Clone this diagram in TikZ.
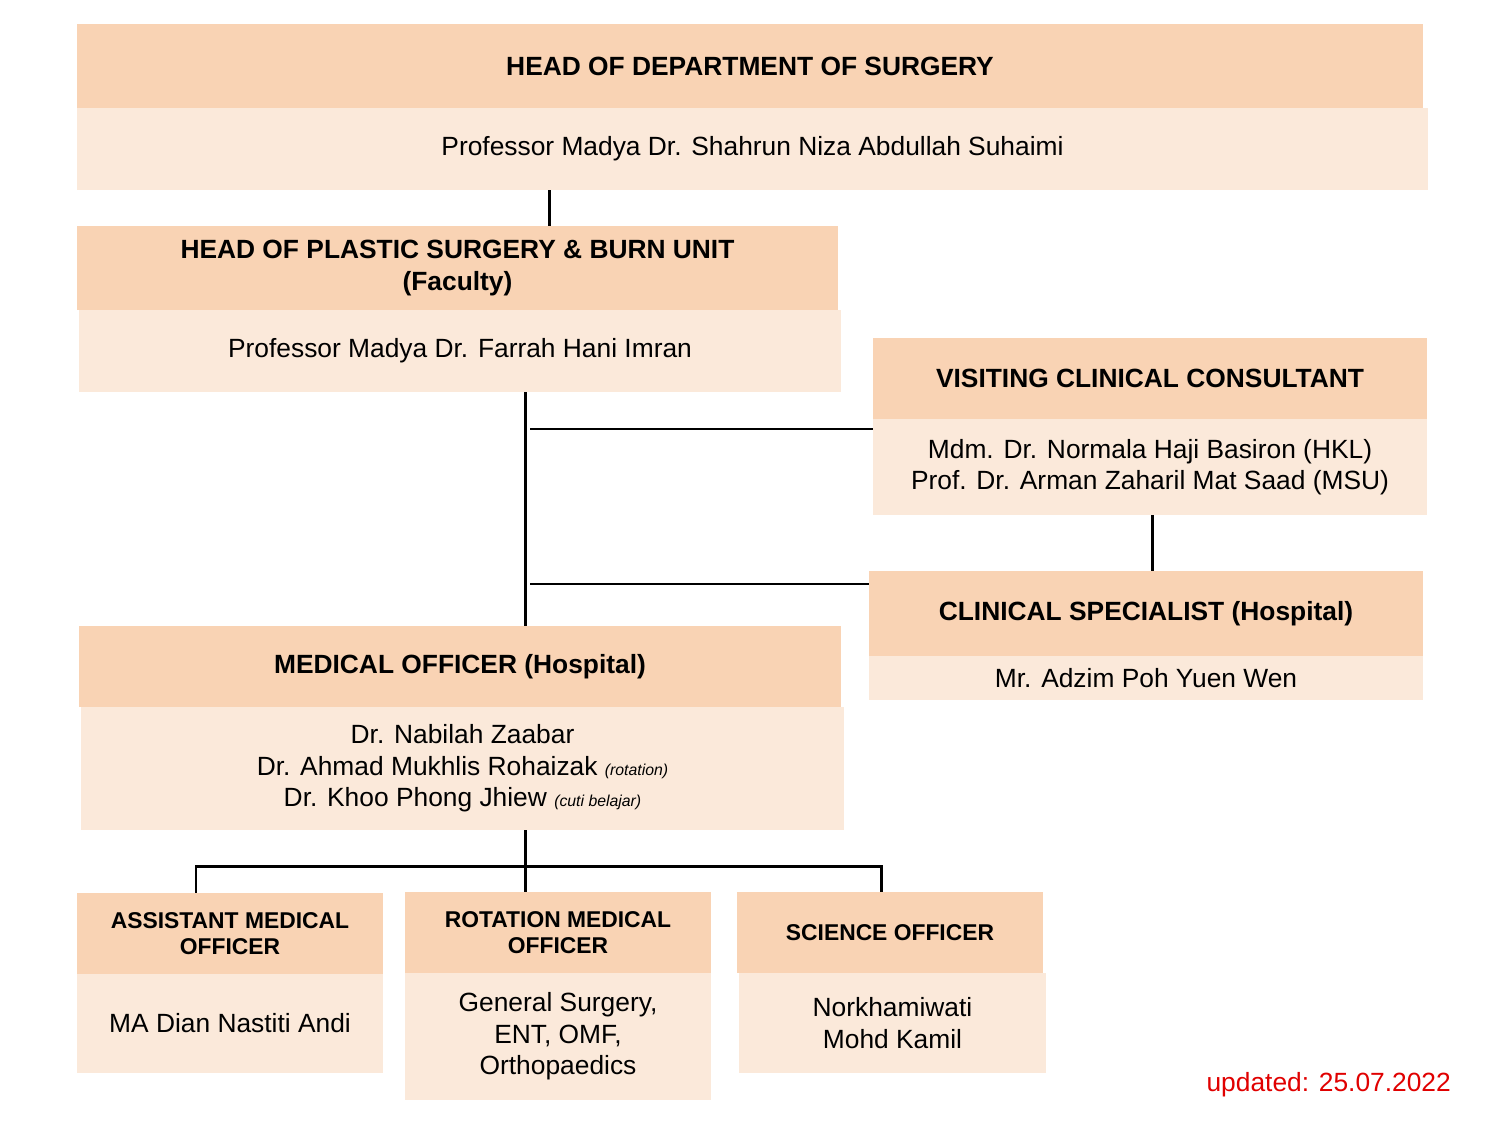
\documentclass[tikz,border=0pt]{standalone}
\usepackage{fontspec}
\setmainfont{Liberation Sans}
\usetikzlibrary{positioning}
\definecolor{hdrcol}{HTML}{F9D3B4}
\definecolor{bdycol}{HTML}{FBE9DA}
\definecolor{updcol}{HTML}{E00000}
\begin{document}
\begin{tikzpicture}[
  x=0.02cm, y=-0.02cm,
  every node/.style={font=\fontsize{15}{18}\selectfont},
  hdr/.style={
    fill=hdrcol, inner sep=0pt, align=center,
    font=\fontsize{15}{18}\selectfont\bfseries
  },
  bdy/.style={fill=bdycol, inner sep=0pt, align=center},
  small/.style={font=\fontsize{13}{15}\selectfont\bfseries},
  link/.style={line width=1.7pt}
]
\useasboundingbox (0,0) rectangle (1500,1125);

% Nodes
\node[hdr, minimum width=26.92cm, minimum height=1.68cm] (headhdr) at (750,66) {HEAD OF DEPARTMENT OF SURGERY};
\node[bdy, minimum width=27.02cm, minimum height=1.64cm] (headbdy) at (752.5,149) {Professor Madya Dr. Shahrun Niza Abdullah Suhaimi};
\node[hdr, minimum width=15.22cm, minimum height=1.68cm] (plashdr) at (457.5,268) {HEAD OF PLASTIC SURGERY \& BURN UNIT\\(Faculty)};
\node[bdy, minimum width=15.24cm, minimum height=1.64cm] (plasbdy) at (460,351) {Professor Madya Dr. Farrah Hani Imran};
\node[hdr, minimum width=11.08cm, minimum height=1.62cm] (vischdr) at (1150,378.5) {VISITING CLINICAL CONSULTANT};
\node[bdy, minimum width=11.08cm, minimum height=1.92cm] (viscbdy) at (1150,467) {Mdm. Dr. Normala Haji Basiron (HKL)\\Prof. Dr. Arman Zaharil Mat Saad (MSU)};
\node[hdr, minimum width=11.08cm, minimum height=1.7cm] (clinhdr) at (1146,613.5) {CLINICAL SPECIALIST (Hospital)};
\node[bdy, minimum width=11.08cm, minimum height=0.88cm] (clinbdy) at (1146,678) {Mr. Adzim Poh Yuen Wen};
\node[hdr, minimum width=15.24cm, minimum height=1.62cm] (medhdr) at (460,666.5) {MEDICAL OFFICER (Hospital)};
\node[bdy, minimum width=15.26cm, minimum height=2.46cm] (medbdy) at (462.5,768.5) {Dr. Nabilah Zaabar\\Dr. Ahmad Mukhlis Rohaizak {\itshape\small (rotation)}\\Dr. Khoo Phong Jhiew {\itshape\small (cuti belajar)}};
\node[hdr, small, minimum width=6.12cm, minimum height=1.62cm] (asshdr) at (230,933.5) {ASSISTANT MEDICAL\\OFFICER};
\node[bdy, minimum width=6.12cm, minimum height=1.98cm] (assbdy) at (230,1023.5) {MA Dian Nastiti Andi};
\node[hdr, small, minimum width=6.12cm, minimum height=1.62cm] (rothdr) at (558,932.5) {ROTATION MEDICAL\\OFFICER};
\node[bdy, minimum width=6.12cm, minimum height=2.54cm] (rotbdy) at (558,1036.5) {General Surgery,\\ENT, OMF,\\Orthopaedics};
\node[hdr, small, minimum width=6.12cm, minimum height=1.62cm] (scihdr) at (890,932.5) {SCIENCE OFFICER};
\node[bdy, minimum width=6.14cm, minimum height=2cm] (scibdy) at (892.5,1023) {Norkhamiwati\\Mohd Kamil};
\node[text=updcol, anchor=east] (upd) at (1457,1085) {updated: 25.07.2022};

% Connectors
\coordinate (topjoin) at (549,0);
\coordinate (spine) at (525,0);
\coordinate (viscjoin) at (530,429);
\coordinate (clinjoin) at (530,584);
\coordinate (consjoin) at (1152,0);
\coordinate (barjoin) at (0,866);
\draw[link] (headbdy.south -| topjoin) -- (plashdr.north -| topjoin);
\draw[link] (plasbdy.south -| spine) -- (medhdr.north -| spine);
\draw[link] (viscjoin) -- (viscbdy.west |- viscjoin);
\draw[link] (clinjoin) -- (clinhdr.west |- clinjoin);
\draw[link] (viscbdy.south -| consjoin) -- (clinhdr.north -| consjoin);
\draw[link] (medbdy.south -| spine) -- (rothdr.north -| spine);
\draw[link] (asshdr.north -| 196,0) -- (barjoin -| 196,0) -- (barjoin -| 881,0) -- (scihdr.north -| 881,0);
\end{tikzpicture}
\end{document}
